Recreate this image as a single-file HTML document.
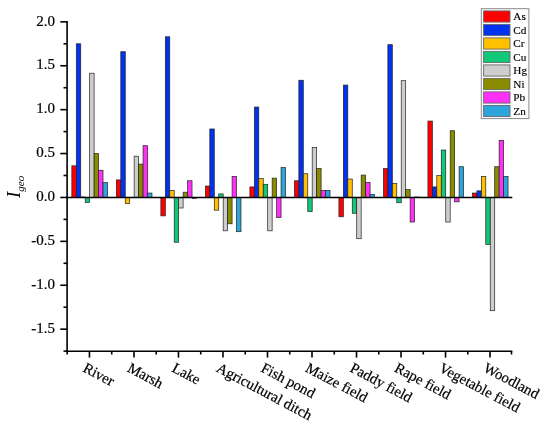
<!DOCTYPE html>
<html><head><meta charset="utf-8"><title>Igeo</title>
<style>html,body{margin:0;padding:0;background:#fff;width:550px;height:426px;overflow:hidden}</style></head>
<body>
<svg width="550" height="426" viewBox="0 0 550 426" style="display:block;position:absolute;left:0;top:0">
<rect width="550" height="426" fill="#fff"/>
<g stroke="#222" stroke-width="0.7">
<rect x="71.85" y="165.84" width="4.45" height="31.61" fill="#FF0000"/>
<rect x="76.30" y="43.80" width="4.45" height="153.65" fill="#0032F0"/>
<rect x="80.75" y="197.01" width="4.45" height="0.44" fill="#FFC000"/>
<rect x="85.20" y="197.45" width="4.45" height="5.00" fill="#10C878"/>
<rect x="89.66" y="73.21" width="4.45" height="124.24" fill="#CDCDCD"/>
<rect x="94.11" y="153.55" width="4.45" height="43.90" fill="#8B8B00"/>
<rect x="98.56" y="170.23" width="4.45" height="27.22" fill="#FF30F5"/>
<rect x="103.01" y="182.52" width="4.45" height="14.93" fill="#2DA5DC"/>
<rect x="116.36" y="179.89" width="4.45" height="17.56" fill="#FF0000"/>
<rect x="120.81" y="51.70" width="4.45" height="145.75" fill="#0032F0"/>
<rect x="125.26" y="197.45" width="4.45" height="6.15" fill="#FFC000"/>
<rect x="134.16" y="156.18" width="4.45" height="41.27" fill="#CDCDCD"/>
<rect x="138.62" y="164.09" width="4.45" height="33.36" fill="#8B8B00"/>
<rect x="143.07" y="145.65" width="4.45" height="51.80" fill="#FF30F5"/>
<rect x="147.52" y="193.06" width="4.45" height="4.39" fill="#2DA5DC"/>
<rect x="160.87" y="197.45" width="4.45" height="18.44" fill="#FF0000"/>
<rect x="165.32" y="36.78" width="4.45" height="160.67" fill="#0032F0"/>
<rect x="169.77" y="190.43" width="4.45" height="7.02" fill="#FFC000"/>
<rect x="174.22" y="197.45" width="4.45" height="44.78" fill="#10C878"/>
<rect x="178.68" y="197.45" width="4.45" height="10.54" fill="#CDCDCD"/>
<rect x="183.13" y="192.18" width="4.45" height="5.27" fill="#8B8B00"/>
<rect x="187.58" y="180.77" width="4.45" height="16.68" fill="#FF30F5"/>
<rect x="192.03" y="197.45" width="4.45" height="0.88" fill="#2DA5DC"/>
<rect x="205.38" y="186.04" width="4.45" height="11.41" fill="#FF0000"/>
<rect x="209.83" y="128.97" width="4.45" height="68.48" fill="#0032F0"/>
<rect x="214.28" y="197.45" width="4.45" height="12.73" fill="#FFC000"/>
<rect x="218.73" y="193.94" width="4.45" height="3.51" fill="#10C878"/>
<rect x="223.19" y="197.45" width="4.45" height="33.36" fill="#CDCDCD"/>
<rect x="227.64" y="197.45" width="4.45" height="26.34" fill="#8B8B00"/>
<rect x="232.09" y="176.38" width="4.45" height="21.07" fill="#FF30F5"/>
<rect x="236.54" y="197.45" width="4.45" height="34.24" fill="#2DA5DC"/>
<rect x="249.89" y="186.91" width="4.45" height="10.54" fill="#FF0000"/>
<rect x="254.34" y="107.02" width="4.45" height="90.43" fill="#0032F0"/>
<rect x="258.79" y="178.57" width="4.45" height="18.88" fill="#FFC000"/>
<rect x="263.24" y="184.28" width="4.45" height="13.17" fill="#10C878"/>
<rect x="267.69" y="197.45" width="4.45" height="33.36" fill="#CDCDCD"/>
<rect x="272.15" y="178.13" width="4.45" height="19.32" fill="#8B8B00"/>
<rect x="276.60" y="197.45" width="4.45" height="20.19" fill="#FF30F5"/>
<rect x="281.05" y="167.60" width="4.45" height="29.85" fill="#2DA5DC"/>
<rect x="294.40" y="180.77" width="4.45" height="16.68" fill="#FF0000"/>
<rect x="298.85" y="80.24" width="4.45" height="117.21" fill="#0032F0"/>
<rect x="303.30" y="173.74" width="4.45" height="23.71" fill="#FFC000"/>
<rect x="307.75" y="197.45" width="4.45" height="14.05" fill="#10C878"/>
<rect x="312.20" y="147.40" width="4.45" height="50.05" fill="#CDCDCD"/>
<rect x="316.66" y="168.48" width="4.45" height="28.97" fill="#8B8B00"/>
<rect x="321.11" y="190.43" width="4.45" height="7.02" fill="#FF30F5"/>
<rect x="325.56" y="190.43" width="4.45" height="7.02" fill="#2DA5DC"/>
<rect x="338.91" y="197.45" width="4.45" height="19.32" fill="#FF0000"/>
<rect x="343.36" y="85.07" width="4.45" height="112.38" fill="#0032F0"/>
<rect x="347.81" y="179.01" width="4.45" height="18.44" fill="#FFC000"/>
<rect x="352.26" y="197.45" width="4.45" height="15.80" fill="#10C878"/>
<rect x="356.72" y="197.45" width="4.45" height="41.27" fill="#CDCDCD"/>
<rect x="361.17" y="175.06" width="4.45" height="22.39" fill="#8B8B00"/>
<rect x="365.62" y="182.52" width="4.45" height="14.93" fill="#FF30F5"/>
<rect x="370.07" y="194.38" width="4.45" height="3.07" fill="#2DA5DC"/>
<rect x="383.42" y="168.48" width="4.45" height="28.97" fill="#FF0000"/>
<rect x="387.87" y="44.68" width="4.45" height="152.77" fill="#0032F0"/>
<rect x="392.32" y="183.40" width="4.45" height="14.05" fill="#FFC000"/>
<rect x="396.77" y="197.45" width="4.45" height="5.27" fill="#10C878"/>
<rect x="401.23" y="80.68" width="4.45" height="116.77" fill="#CDCDCD"/>
<rect x="405.68" y="189.55" width="4.45" height="7.90" fill="#8B8B00"/>
<rect x="410.13" y="197.45" width="4.45" height="24.58" fill="#FF30F5"/>
<rect x="414.58" y="197.01" width="4.45" height="0.44" fill="#2DA5DC"/>
<rect x="427.93" y="121.06" width="4.45" height="76.39" fill="#FF0000"/>
<rect x="432.38" y="186.91" width="4.45" height="10.54" fill="#0032F0"/>
<rect x="436.83" y="175.50" width="4.45" height="21.95" fill="#FFC000"/>
<rect x="441.28" y="150.04" width="4.45" height="47.41" fill="#10C878"/>
<rect x="445.74" y="197.45" width="4.45" height="24.58" fill="#CDCDCD"/>
<rect x="450.19" y="130.72" width="4.45" height="66.73" fill="#8B8B00"/>
<rect x="454.64" y="197.45" width="4.45" height="4.39" fill="#FF30F5"/>
<rect x="459.09" y="166.72" width="4.45" height="30.73" fill="#2DA5DC"/>
<rect x="472.44" y="193.06" width="4.45" height="4.39" fill="#FF0000"/>
<rect x="476.89" y="190.86" width="4.45" height="6.58" fill="#0032F0"/>
<rect x="481.34" y="176.38" width="4.45" height="21.07" fill="#FFC000"/>
<rect x="485.79" y="197.45" width="4.45" height="46.97" fill="#10C878"/>
<rect x="490.25" y="197.45" width="4.45" height="113.26" fill="#CDCDCD"/>
<rect x="494.70" y="166.72" width="4.45" height="30.73" fill="#8B8B00"/>
<rect x="499.15" y="140.38" width="4.45" height="57.07" fill="#FF30F5"/>
<rect x="503.60" y="176.38" width="4.45" height="21.07" fill="#2DA5DC"/>
</g>
<g stroke="#000" stroke-width="1.6" fill="none" stroke-linecap="butt">
<line x1="67.1" y1="21.1" x2="67.1" y2="352.2"/>
<line x1="66.2" y1="351.3" x2="512.3" y2="351.3"/>
</g>
<line x1="66.2" y1="197.45" x2="512.3" y2="197.45" stroke="#000" stroke-width="1.5"/>
<g stroke="#000" stroke-width="1.6">
<line x1="60.30" y1="21.85" x2="67.1" y2="21.85"/>
<line x1="63.50" y1="43.80" x2="67.1" y2="43.80"/>
<line x1="60.30" y1="65.75" x2="67.1" y2="65.75"/>
<line x1="63.50" y1="87.70" x2="67.1" y2="87.70"/>
<line x1="60.30" y1="109.65" x2="67.1" y2="109.65"/>
<line x1="63.50" y1="131.60" x2="67.1" y2="131.60"/>
<line x1="60.30" y1="153.55" x2="67.1" y2="153.55"/>
<line x1="63.50" y1="175.50" x2="67.1" y2="175.50"/>
<line x1="60.30" y1="197.45" x2="67.1" y2="197.45"/>
<line x1="63.50" y1="219.40" x2="67.1" y2="219.40"/>
<line x1="60.30" y1="241.35" x2="67.1" y2="241.35"/>
<line x1="63.50" y1="263.30" x2="67.1" y2="263.30"/>
<line x1="60.30" y1="285.25" x2="67.1" y2="285.25"/>
<line x1="63.50" y1="307.20" x2="67.1" y2="307.20"/>
<line x1="60.30" y1="329.15" x2="67.1" y2="329.15"/>
<line x1="63.50" y1="351.10" x2="67.1" y2="351.10"/>
<line x1="89.45" y1="351.3" x2="89.45" y2="357.6"/>
<line x1="67.20" y1="351.3" x2="67.20" y2="354.5"/>
<line x1="133.97" y1="351.3" x2="133.97" y2="357.6"/>
<line x1="111.71" y1="351.3" x2="111.71" y2="354.5"/>
<line x1="178.47" y1="351.3" x2="178.47" y2="357.6"/>
<line x1="156.22" y1="351.3" x2="156.22" y2="354.5"/>
<line x1="222.99" y1="351.3" x2="222.99" y2="357.6"/>
<line x1="200.73" y1="351.3" x2="200.73" y2="354.5"/>
<line x1="267.50" y1="351.3" x2="267.50" y2="357.6"/>
<line x1="245.24" y1="351.3" x2="245.24" y2="354.5"/>
<line x1="312.00" y1="351.3" x2="312.00" y2="357.6"/>
<line x1="289.75" y1="351.3" x2="289.75" y2="354.5"/>
<line x1="356.51" y1="351.3" x2="356.51" y2="357.6"/>
<line x1="334.26" y1="351.3" x2="334.26" y2="354.5"/>
<line x1="401.02" y1="351.3" x2="401.02" y2="357.6"/>
<line x1="378.77" y1="351.3" x2="378.77" y2="354.5"/>
<line x1="445.53" y1="351.3" x2="445.53" y2="357.6"/>
<line x1="423.28" y1="351.3" x2="423.28" y2="354.5"/>
<line x1="490.04" y1="351.3" x2="490.04" y2="357.6"/>
<line x1="467.79" y1="351.3" x2="467.79" y2="354.5"/>
<line x1="511.50" y1="351.3" x2="511.50" y2="354.5"/>
</g>
<g font-family="'Liberation Serif', serif" font-size="15" fill="#000" stroke="#000" stroke-width="0.2" text-anchor="end">
<text x="55" y="25.55">2.0</text>
<text x="55" y="69.45">1.5</text>
<text x="55" y="113.35">1.0</text>
<text x="55" y="157.25">0.5</text>
<text x="55" y="201.15">0.0</text>
<text x="55" y="245.05">-0.5</text>
<text x="55" y="288.95">-1.0</text>
<text x="55" y="332.85">-1.5</text>
</g>
<g font-family="'Liberation Serif', serif" font-size="14.8" fill="#000" stroke="#000" stroke-width="0.2">
<text transform="translate(81.95,370.90) rotate(28)">River</text>
<text transform="translate(126.47,370.90) rotate(28)">Marsh</text>
<text transform="translate(170.97,370.90) rotate(28)">Lake</text>
<text transform="translate(215.49,370.90) rotate(28)">Agricultural ditch</text>
<text transform="translate(260.00,370.90) rotate(28)">Fish pond</text>
<text transform="translate(304.50,370.90) rotate(28)">Maize field</text>
<text transform="translate(349.01,370.90) rotate(28)">Paddy field</text>
<text transform="translate(393.52,370.90) rotate(28)">Rape field</text>
<text transform="translate(438.03,370.90) rotate(28)">Vegetable field</text>
<text transform="translate(482.54,370.90) rotate(28)">Woodland</text>
</g>
<text transform="translate(19.7,198) rotate(-90)" font-family="'Liberation Serif', serif" font-style="italic" font-size="19" fill="#000">I<tspan font-size="11" dy="4">geo</tspan></text>
<rect x="481.3" y="8.7" width="47.6" height="109.9" fill="#fff" stroke="#888" stroke-width="1"/>
<rect x="483.6" y="10.90" width="26.4" height="11.2" fill="#FF0000" stroke="#666" stroke-width="0.9"/>
<text x="513.3" y="20.30" font-family="'Liberation Serif', serif" font-size="11.2" fill="#000" stroke="#000" stroke-width="0.15">As</text>
<rect x="483.6" y="24.40" width="26.4" height="11.2" fill="#0032F0" stroke="#666" stroke-width="0.9"/>
<text x="513.3" y="33.80" font-family="'Liberation Serif', serif" font-size="11.2" fill="#000" stroke="#000" stroke-width="0.15">Cd</text>
<rect x="483.6" y="37.90" width="26.4" height="11.2" fill="#FFC000" stroke="#666" stroke-width="0.9"/>
<text x="513.3" y="47.30" font-family="'Liberation Serif', serif" font-size="11.2" fill="#000" stroke="#000" stroke-width="0.15">Cr</text>
<rect x="483.6" y="51.40" width="26.4" height="11.2" fill="#10C878" stroke="#666" stroke-width="0.9"/>
<text x="513.3" y="60.80" font-family="'Liberation Serif', serif" font-size="11.2" fill="#000" stroke="#000" stroke-width="0.15">Cu</text>
<rect x="483.6" y="64.90" width="26.4" height="11.2" fill="#CDCDCD" stroke="#666" stroke-width="0.9"/>
<text x="513.3" y="74.30" font-family="'Liberation Serif', serif" font-size="11.2" fill="#000" stroke="#000" stroke-width="0.15">Hg</text>
<rect x="483.6" y="78.40" width="26.4" height="11.2" fill="#8B8B00" stroke="#666" stroke-width="0.9"/>
<text x="513.3" y="87.80" font-family="'Liberation Serif', serif" font-size="11.2" fill="#000" stroke="#000" stroke-width="0.15">Ni</text>
<rect x="483.6" y="91.90" width="26.4" height="11.2" fill="#FF30F5" stroke="#666" stroke-width="0.9"/>
<text x="513.3" y="101.30" font-family="'Liberation Serif', serif" font-size="11.2" fill="#000" stroke="#000" stroke-width="0.15">Pb</text>
<rect x="483.6" y="105.40" width="26.4" height="11.2" fill="#2DA5DC" stroke="#666" stroke-width="0.9"/>
<text x="513.3" y="114.80" font-family="'Liberation Serif', serif" font-size="11.2" fill="#000" stroke="#000" stroke-width="0.15">Zn</text>
</svg>
</body></html>
